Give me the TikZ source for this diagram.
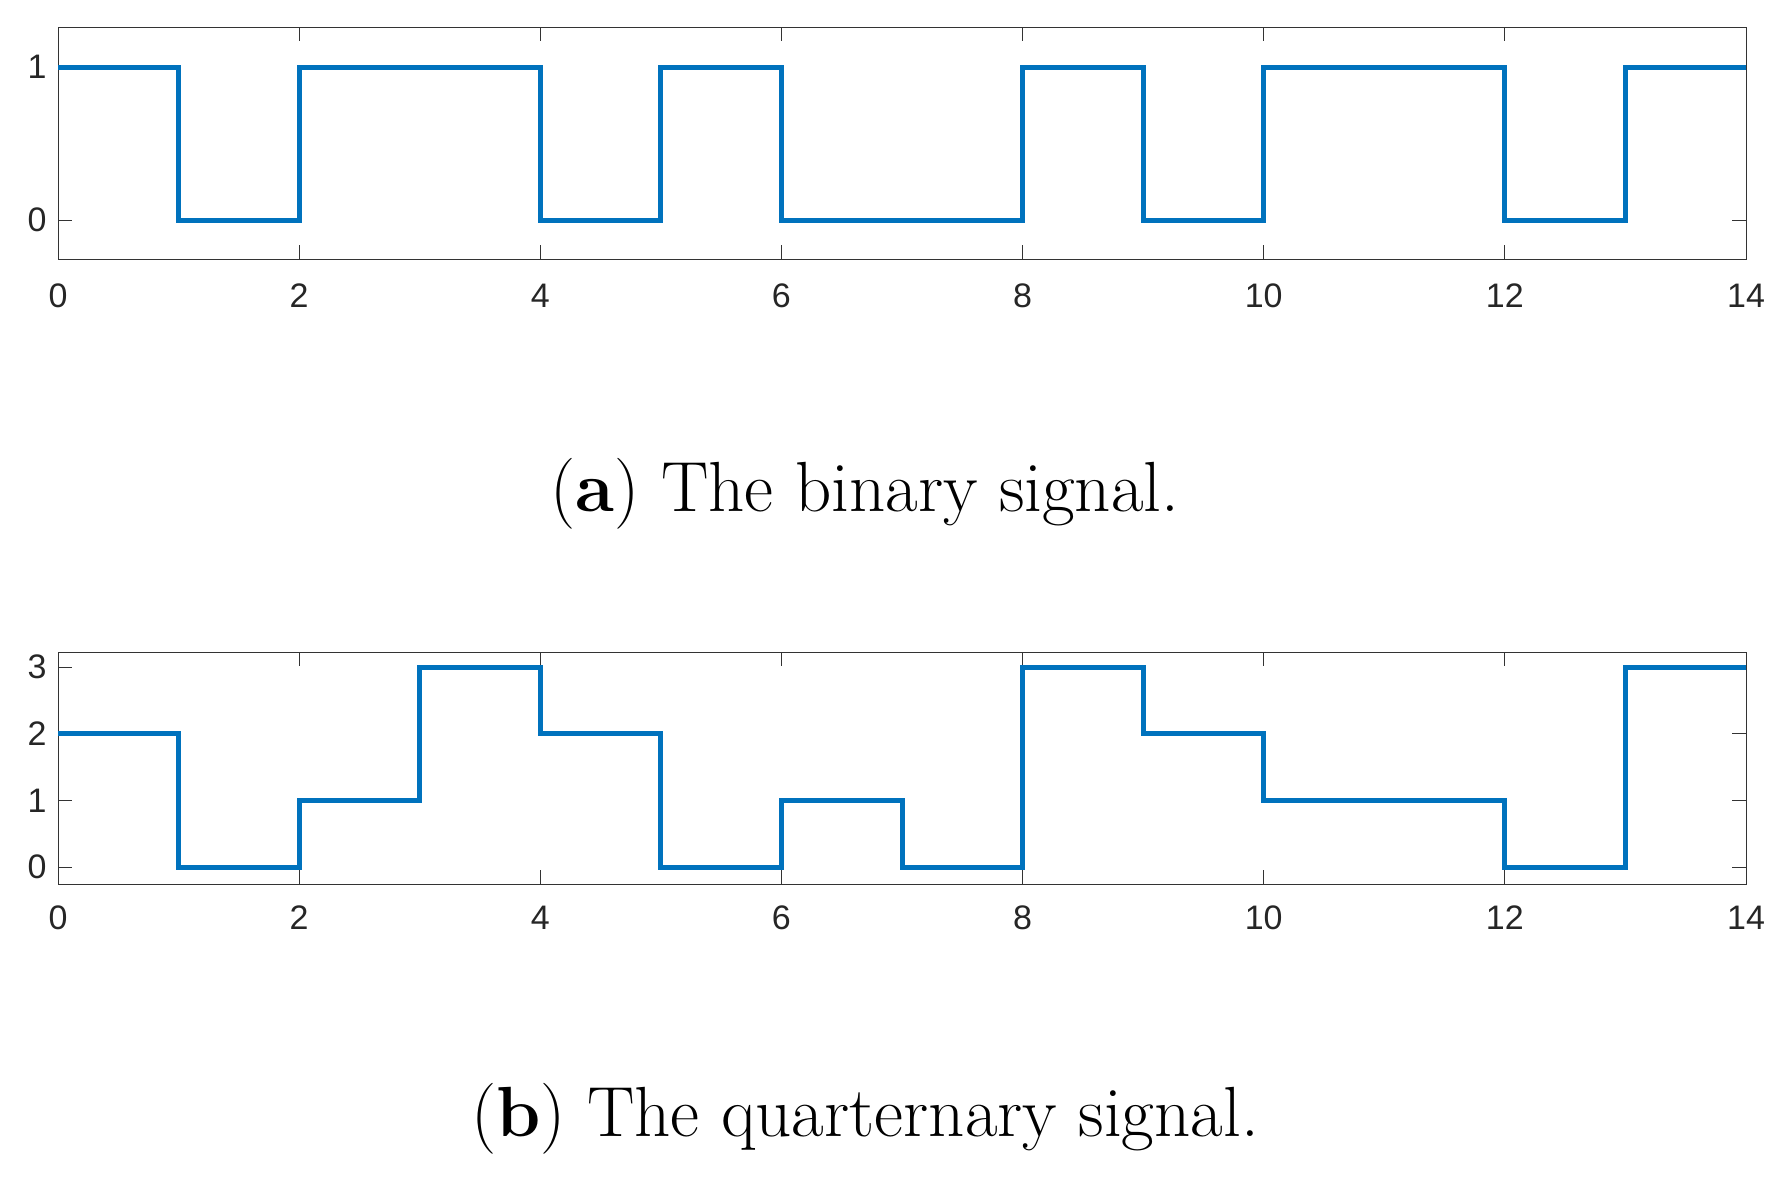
\documentclass[tikz,border=0pt]{standalone}
\usepackage{fontspec}
\newfontfamily\axfont{Liberation Sans}
\definecolor{mblue}{RGB}{0,114,189}
\begin{document}
\begin{tikzpicture}[x=1pt,y=-1pt,
  sig/.style={mblue,line width=5pt,line join=miter},
  frame/.style={draw=black!80,line width=0.8pt},
  ticklab/.style={font=\axfont\fontsize{34}{34}\selectfont,text=black!85},
  captext/.style={font=\fontsize{71}{71}\selectfont}]
\useasboundingbox (0,0) rectangle (1779,1176);
\def\xa{58}\def\xs{120.57}
% panel a
\draw[frame] (\xa,27) rectangle (1746,259);
\foreach \i in {0,2,...,14}{
  \draw[frame] ({\xa+\i*\xs},27) -- ++(0,14);
  \draw[frame] ({\xa+\i*\xs},259) -- ++(0,-14);
  \node[ticklab] (ta\i) at ({\xa+\i*\xs},296) {\i};}
\foreach \v/\y in {0/220,1/67}{
  \draw[frame] (\xa,\y) -- ++(14,0);
  \draw[frame] (1746,\y) -- ++(-14,0);
  \node[ticklab,anchor=east] (la\v) at (50,\y) {\v};}
\def\A{1,0,1,1,0,1,0,0,1,0,1,1,0,1}
\draw[sig] (\xa,67)
 foreach[count=\k from 0] \b in \A { -- ({\xa+\k*\xs},{220-153*\b}) -- ({\xa+(\k+1)*\xs},{220-153*\b}) };
\node[captext] (ca) at (865,494) {(\textbf{a}) The binary signal.};
% panel b
\draw[frame] (\xa,652) rectangle (1746,884);
\foreach \i in {0,2,...,14}{
  \draw[frame] ({\xa+\i*\xs},652) -- ++(0,14);
  \draw[frame] ({\xa+\i*\xs},884) -- ++(0,-14);
  \node[ticklab] (tb\i) at ({\xa+\i*\xs},918) {\i};}
\foreach \v in {0,1,2,3}{
  \draw[frame] (\xa,{867-66.67*\v}) -- ++(14,0);
  \draw[frame] (1746,{867-66.67*\v}) -- ++(-14,0);
  \node[ticklab,anchor=east] (lb\v) at (50,{867-66.67*\v}) {\v};}
\def\B{2,0,1,3,2,0,1,0,3,2,1,1,0,3}
\draw[sig] (\xa,{867-66.67*2})
 foreach[count=\k from 0] \b in \B { -- ({\xa+\k*\xs},{867-66.67*\b}) -- ({\xa+(\k+1)*\xs},{867-66.67*\b}) };
\node[captext] (cb) at (865,1119) {(\textbf{b}) The quarternary signal.};
\end{tikzpicture}
\end{document}
